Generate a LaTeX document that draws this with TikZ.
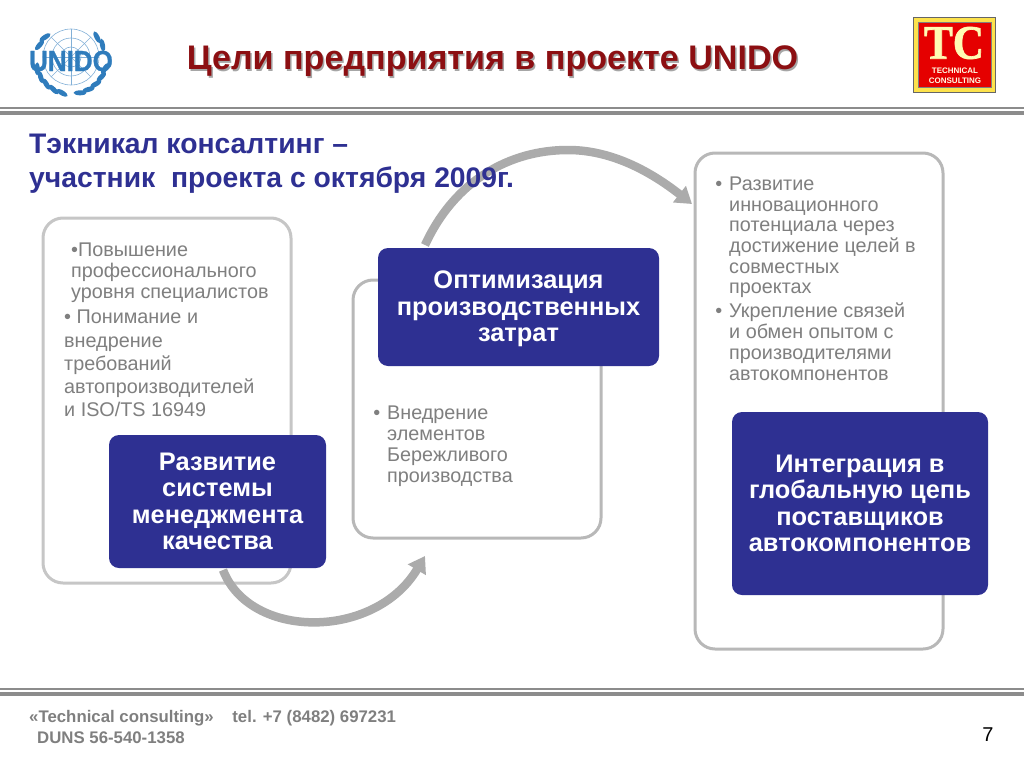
\documentclass[tikz,border=0pt]{standalone}
\usepackage{fontspec}
\usepackage{xcolor}
\usetikzlibrary{arrows.meta,shapes.geometric}
\setmainfont{Liberation Sans}
\newfontfamily\tcfont[BoldFeatures={FakeBold=1.5}]{Liberation Serif}
\newfontfamily\unidofont[BoldFeatures={FakeBold=1}]{Liberation Sans}
\definecolor{navyblue}{HTML}{2E3092}
\definecolor{titlered}{HTML}{8C0F12}
\definecolor{cardgray}{HTML}{B8B8B8}
\definecolor{arrowgray}{HTML}{ABABAB}
\definecolor{bodygray}{HTML}{7F7F7F}
\definecolor{unidoblue}{HTML}{2F7CBC}
\newcommand{\bul}{\llap{•\hspace{7pt}}}
\begin{document}
\begin{tikzpicture}[x = 1pt, y = -1pt,
    card/.style = {draw = cardgray, line width = 3pt, rounded corners = 20pt, fill = white},
    goalbox/.style = {fill = navyblue, text = white, rounded corners = 10pt, align = center, font = \fontsize{25.4}{26.5}\selectfont\bfseries},
    bodytext/.style = {anchor = north west, inner sep = 0pt, align = left, text = bodygray},
    flowarrow/.style = {draw = arrowgray, line width = 8.5pt, -{Triangle[length = 16pt, width = 20pt]}},
    leaf/.style = {ellipse, fill = unidoblue, minimum width = 13pt, minimum height = 5pt, inner sep = 0pt},
    rule/.style = {draw = gray!90, line width = #1}]
  \useasboundingbox (0, 0) rectangle (1024, 768);
  \draw [rule = 1.5pt] (0, 108) -- (1024, 108);
  \draw [rule = 4pt] (0, 112.5) -- (1024, 112.5);
  \draw [rule = 1.5pt] (0, 689) -- (1024, 689);
  \draw [rule = 4pt] (0, 693.5) -- (1024, 693.5);

  \foreach \r in {10, 19, 28} \draw [unidoblue!60, line width = .6pt] (71, 57) circle (\r);
  \foreach \a in {0, 45, ..., 315} \draw [unidoblue!60, line width = .6pt] (71, 57) -- ++(\a : 28);
  \foreach \a in {-42, -26, 15, 30, 45, 60, 75, 105, 120, 135, 150, 165, 206, 222}
    \node [leaf, rotate = {75 - \a}] at ({71 + 35 * cos(\a)}, {60 + 34 * sin(\a)}) {};
  \node (unido) [text = unidoblue, inner sep = 0pt, yscale = 1.12, transform shape, font = \fontsize{26}{26}\unidofont\bfseries] at (71, 61) {UNIDO};

  \node (logoframe) [draw = black!60, fill = yellow!75!orange!70, minimum width = 82pt, minimum height = 75pt, inner sep = 0pt] at (954.5, 54.5) {};
  \node (logored) [draw = black!50, fill = red!90!black, minimum width = 73pt, minimum height = 65pt, inner sep = 0pt] at (954.5, 54.5) {};
  \node (logotc) [text = yellow!30, inner sep = 0pt, xscale = .9, transform shape, font = \fontsize{48}{48}\tcfont\bfseries] at (954, 43) {TC};
  \node (logotext) [text = white!90!yellow, inner sep = 0pt, align = center, font = \fontsize{8}{10}\selectfont\bfseries] at (955, 76) {TECHNICAL\\CONSULTING};

  \node (titleshadow) [text = black!35, inner sep = 0pt, font = \fontsize{34.1}{34}\selectfont\bfseries] at (494, 63) {Цели предприятия в проекте UNIDO};
  \node (title) [text = titlered, inner sep = 0pt, font = \fontsize{34.1}{34}\selectfont\bfseries] at (492.5, 61.5) {Цели предприятия в проекте UNIDO};

  \node (cardquality) [card, draw = cardgray!80, minimum width = 248pt, minimum height = 365pt] at (167, 400.5) {};
  \node (cardcost) [card, minimum width = 248pt, minimum height = 258pt] at (477, 409) {};
  \node (cardchain) [card, minimum width = 248pt, minimum height = 496pt] at (819, 401) {};

  \node (quality) [goalbox, minimum width = 217pt, minimum height = 133pt] at (217.5, 501.5) {Развитие\\системы\\менеджмента\\качества};
  \node (cost) [goalbox, minimum width = 281pt, minimum height = 118pt] at (518.5, 307) {\rule{0pt}{22pt}Оптимизация\\производственных\\затрат};
  \node (chain) [goalbox, minimum width = 256pt, minimum height = 183pt] at (860, 503.5) {Интеграция в\\глобальную цепь\\поставщиков\\автокомпонентов};

  \coordinate (qualityout) at (223, 570);
  \coordinate (costin) at (425, 556);
  \coordinate (costout) at (425, 245);
  \coordinate (chainin) at (692, 204);
  \draw [flowarrow] (qualityout) .. controls (250, 640) and (375, 640) .. (costin);
  \draw [flowarrow] (costout) .. controls (455, 180) and (510, 150) .. (568, 150) .. controls (615, 150) and (655, 175) .. (chainin);

  \node (company) [anchor = north west, inner sep = 0pt, align = left, text = navyblue, font = \fontsize{28.3}{34}\selectfont\bfseries] at (29, 134) {Тэкникал консалтинг –\\участник\ \ проекта с октября 2009г.};

  \node (skills) [bodytext, font = \fontsize{19.8}{21}\selectfont] at (71, 243) {•Повышение\\профессионального\\уровня специалистов};
  \node (iso) [bodytext, font = \fontsize{19.8}{23.2}\selectfont] at (64, 310) {• Понимание и\\внедрение\\требований\\автопроизводителей\\и ISO/TS 16949};
  \node (lean) [bodytext, font = \fontsize{19.8}{21}\selectfont] at (387, 406) {\bul Внедрение\\элементов\\Бережливого\\производства};
  \node (innovation) [bodytext, font = \fontsize{19.8}{20.7}\selectfont] at (729, 176.5) {\bul Развитие\\инновационного\\потенциала через\\достижение целей в\\совместных\\проектах};
  \node (exchange) [bodytext, font = \fontsize{19.8}{20.7}\selectfont] at (729, 303) {\bul Укрепление связей\\и обмен опытом с\\производителями\\автокомпонентов};

  \node (footer) [anchor = north west, inner sep = 0pt, align = left, text = bodygray, font = \fontsize{16.8}{21}\selectfont\bfseries] at (29, 710) {«Technical consulting»\ \ \ \ tel. +7 (8482) 697231\\\hspace*{8pt}DUNS 56-540-1358};
  \node (pagenum) [inner sep = 0pt, font = \fontsize{20}{20}\selectfont] at (988, 735) {7};
\end{tikzpicture}
\end{document}
